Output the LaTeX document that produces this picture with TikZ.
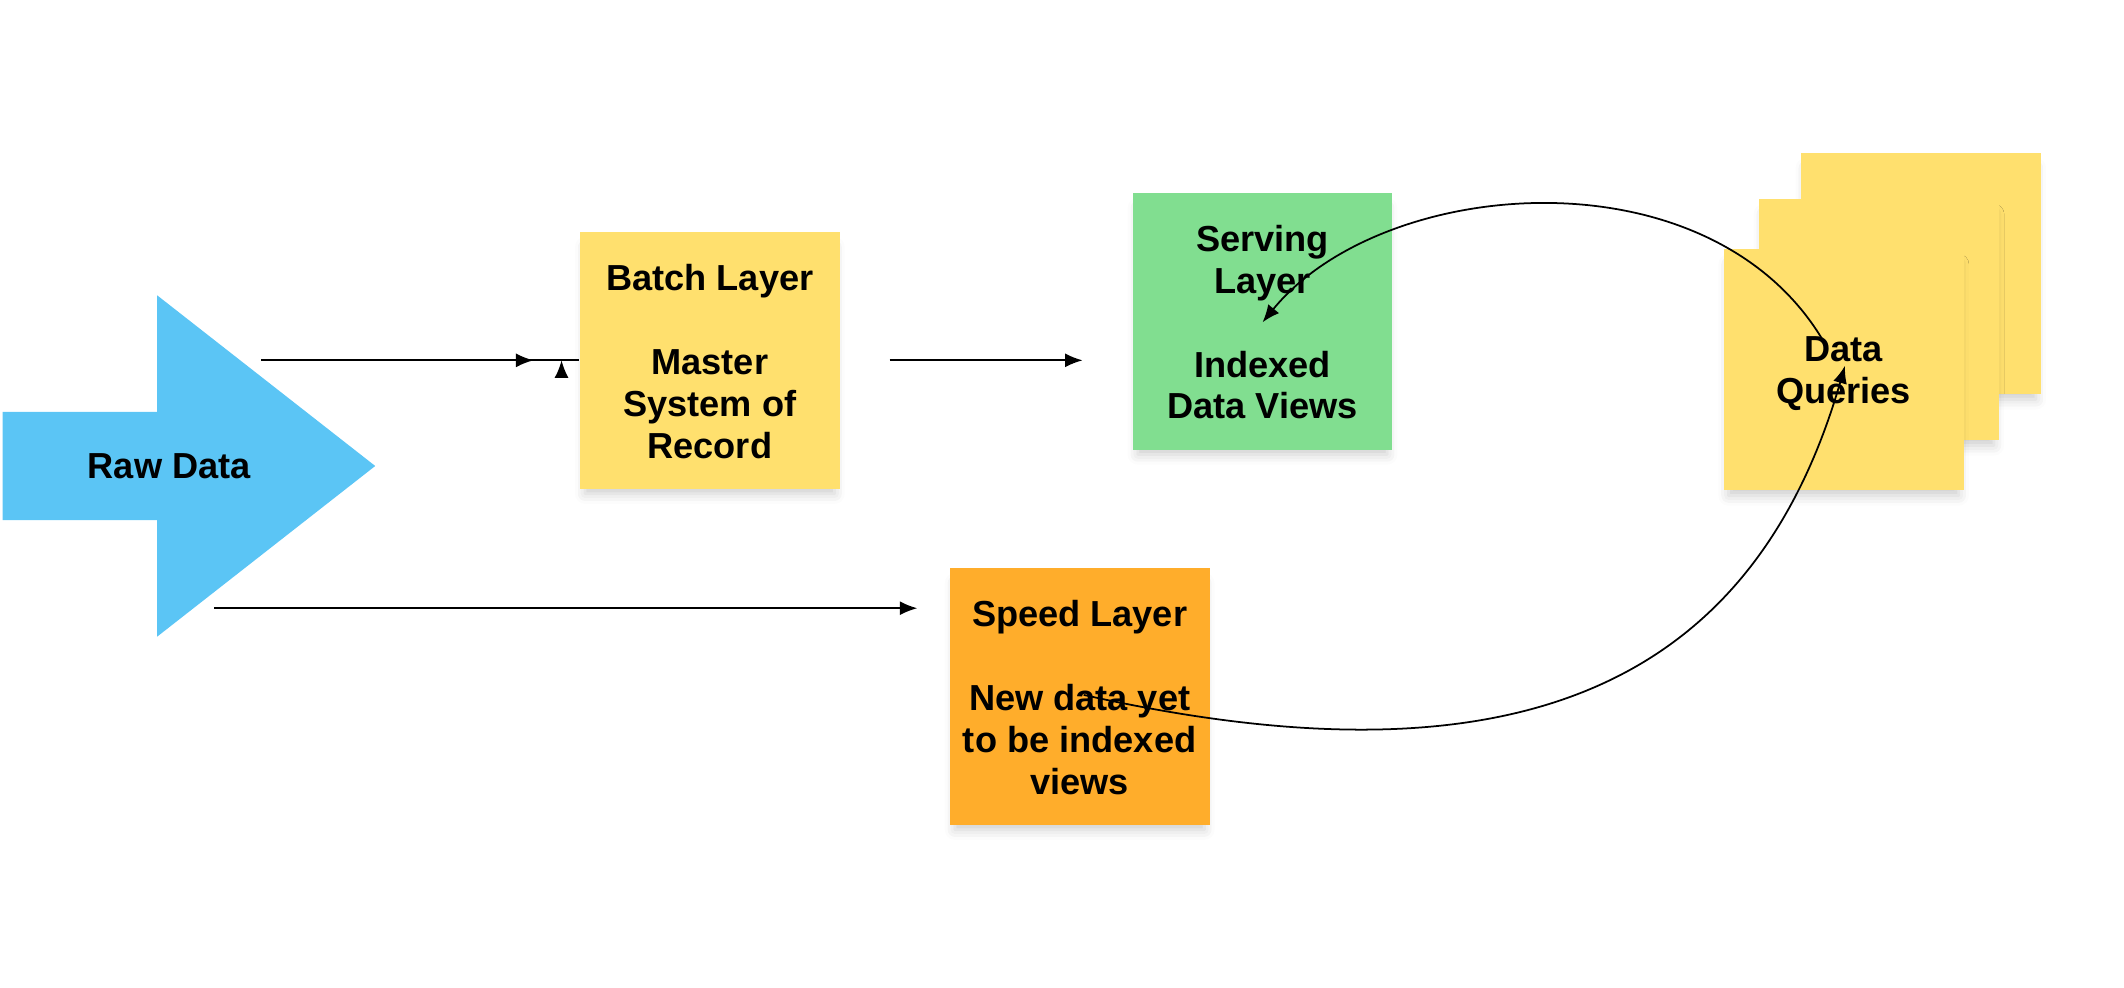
\documentclass[tikz,border=0pt]{standalone}
\usepackage{fontspec}
\setmainfont{Liberation Sans}
\usetikzlibrary{shadows.blur,arrows.meta}
\definecolor{sticky}{HTML}{FFE06E}
\definecolor{stickyg}{HTML}{81DE90}
\definecolor{stickyo}{HTML}{FFAD2B}
\definecolor{rawblue}{HTML}{5BC5F5}
\begin{document}
\begin{tikzpicture}[x=0.013546cm,y=-0.013546cm,
  note/.style={draw=none,minimum width=2.6cm,minimum height=2.57cm,inner sep=0pt,
    blur shadow={shadow xshift=0pt,shadow yshift=-3pt,shadow blur radius=3pt,shadow opacity=20,shadow scale=0.96}},
  lbl/.style={font=\bfseries\fontsize{10.3}{11.9}\selectfont,align=center},
  arr/.style={-{Latex[length=5pt,width=4pt]},line width=0.5pt}]
\useasboundingbox (0,0) rectangle (1568,729);
% raw data arrow
\fill[rawblue] (2,304) -- (116,304) -- (116,218) -- (277,344) -- (116,470) -- (116,384) -- (2,384) -- cycle;
\node[lbl] (raw) at (125,344) {Raw Data};
\coordinate (r1) at (193,266);
\coordinate (r2) at (158,449);
% notes
\node[note,fill=sticky] (batch) at (524,266) {};
\node[lbl] (batcht) at (524,267) {Batch Layer\\[\baselineskip]Master\\System of\\Record};
\node[note,fill=stickyg] (serv) at (932,237) {};
\node[lbl] (servt) at (932,238) {Serving\\Layer\\[\baselineskip]Indexed\\Data Views};
\node[note,fill=stickyo] (speed) at (797,514) {};
\node[lbl] (speedt) at (797,515) {Speed Layer\\[\baselineskip]New data yet\\to be indexed\\views};
\node[note,fill=sticky,minimum width=2.4cm,minimum height=2.41cm] (dq3) at (1418,202) {};
\node[note,fill=sticky,minimum width=2.4cm,minimum height=2.41cm] (dq2) at (1387,236) {};
\node[note,fill=sticky,minimum width=2.4cm,minimum height=2.41cm] (dq1) at (1361,273) {};
\node[lbl] (dqt) at (1361,276) {Data\\Queries};
% connectors
\draw[arr] (r1) -- (batch.west|-r1) ++(-13,0) coordinate (b0);
\draw[arr] (r1) -- ([xshift=-13]batch.west|-r1);
\draw[arr] ([xshift=14]batch.east|-r1) -- ([xshift=-14]serv.west|-r1);
\draw[arr] (r2) -- ([xshift=-9]speed.west|-r2);
\coordinate (q1) at (1345,250);
\coordinate (s1) at (932,238);
\draw[arr] (q1) .. controls (1260,110) and (1020,130) .. (s1);
\coordinate (q2) at (1362,270);
\coordinate (p1) at (800,513);
\draw[arr] (p1) .. controls (1100,580) and (1290,520) .. (q2);
\end{tikzpicture}
\end{document}
